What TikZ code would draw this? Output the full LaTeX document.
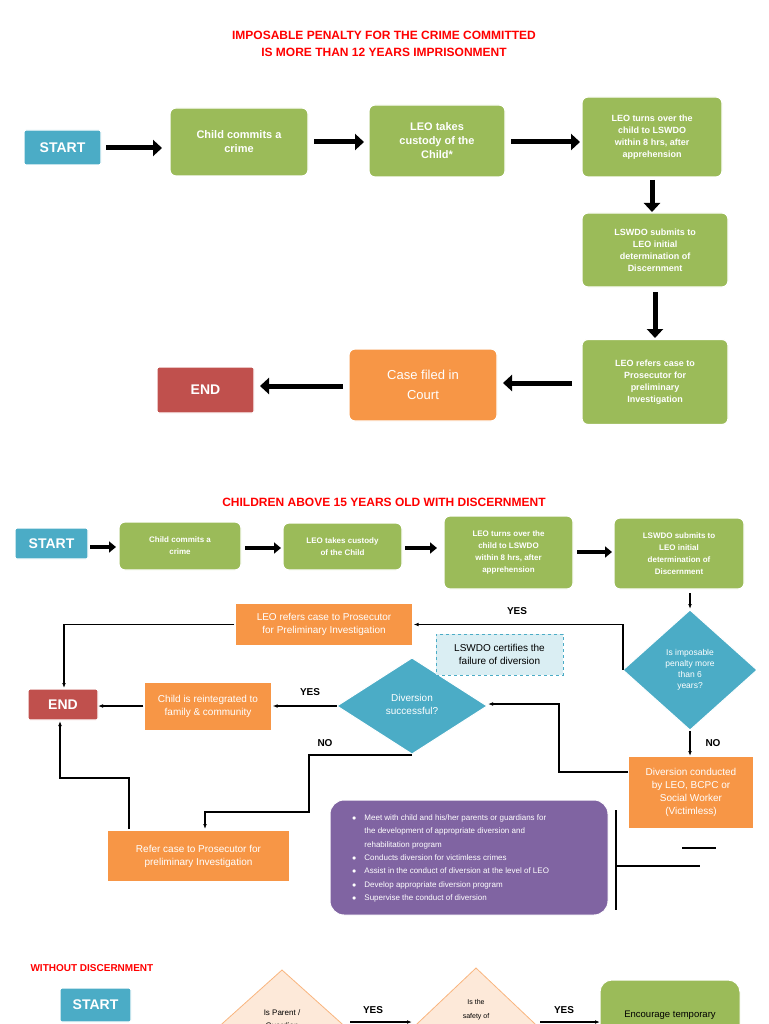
\documentclass[tikz,border=0pt]{standalone}
\usepackage{fontspec}
\setmainfont{Liberation Sans}
\usetikzlibrary{arrows.meta}
\definecolor{cgreen}{HTML}{9BBB59}
\definecolor{cteal}{HTML}{4BACC6}
\definecolor{cred}{HTML}{C0504D}
\definecolor{corange}{HTML}{F79646}
\definecolor{cpurple}{HTML}{8064A2}
\definecolor{clight}{HTML}{DAEEF3}
\definecolor{cpeach}{HTML}{FDE9D9}
\tikzset{
  box/.style={draw=white, line width=1.2pt, rounded corners=6pt, text=white,
              font=\bfseries\fontsize{11}{14}\selectfont, align=center, inner sep=0pt},
  green/.style={box, fill=cgreen},
  start/.style={box, fill=cteal, rounded corners=2pt, font=\bfseries\fontsize{14}{16}\selectfont},
  endb/.style={box, fill=cred, rounded corners=2pt, font=\bfseries\fontsize{14}{16}\selectfont},
  orange/.style={box, fill=corange, rounded corners=0pt, font=\fontsize{10}{13}\selectfont},
  small/.style={font=\bfseries\fontsize{9}{12}\selectfont},
  big/.style={-{Triangle[length=9pt,width=16pt]}, line width=5pt},
  mid/.style={-{Triangle[length=7pt,width=11pt]}, line width=3.5pt},
  thin/.style={-{Latex[length=5pt]}, line width=1.2pt},
  lbl/.style={font=\bfseries\fontsize{10}{12}\selectfont},
  ttl/.style={text=red, font=\bfseries\fontsize{12}{17}\selectfont, align=center},
  dia/.style={fill=cteal, draw=white, line width=1pt},
  tri/.style={fill=cpeach, draw=corange!70, line width=0.8pt}
}
\begin{document}
\begin{tikzpicture}[x=1pt,y=-1pt]
\useasboundingbox (0,0) rectangle (768,1024);
\clip (0,0) rectangle (768,1024);
% ---------- section 1
\node[ttl] at (384,44) {IMPOSABLE PENALTY FOR THE CRIME COMMITTED\\IS MORE THAN 12 YEARS IMPRISONMENT};
\node[start, minimum width=77pt, minimum height=35pt] (s1) at (62.5,147.5) {START};
\node[green, minimum width=138pt, minimum height=68pt] (a1) at (239,142) {Child commits a\\crime};
\node[green, minimum width=136pt, minimum height=72pt] (a2) at (437,141) {LEO takes\\custody of the\\Child*};
\node[green, small, minimum width=140pt, minimum height=80pt] (a3) at (652,137) {LEO turns over the\\child to LSWDO\\within 8 hrs, after\\apprehension};
\node[green, small, minimum width=146pt, minimum height=74pt] (a4) at (655,250) {LSWDO submits to\\LEO initial\\determination of\\Discernment};
\node[green, small, minimum width=146pt, minimum height=85pt] (a5) at (655,382) {LEO refers case to\\Prosecutor for\\preliminary\\Investigation};
\node[orange, font=\fontsize{13}{20}\selectfont, rounded corners=6pt, minimum width=148pt, minimum height=72pt] (a6) at (423,385) {Case filed in\\Court};
\node[endb, minimum width=97pt, minimum height=46pt] (e1) at (205.5,390) {END};
\draw[big] (106,148) -- (162,148);
\draw[big] (314,142) -- (364,142);
\draw[big] (511,142) -- (580,142);
\draw[big] (652,180) -- (652,212);
\draw[big] (655,292) -- (655,338);
\draw[big] (572,383) -- (503,383);
\draw[big] (343,386) -- (260,386);
% ---------- section 2
\node[ttl] at (384,502) {CHILDREN ABOVE 15 YEARS OLD WITH DISCERNMENT};
\tikzset{g2/.style={green, font=\bfseries\fontsize{8}{12}\selectfont}}
\node[start, minimum width=73pt, minimum height=31pt] (s2) at (51.5,543.5) {START};
\node[g2, minimum width=122pt, minimum height=48pt] (b1) at (180,546) {Child commits a\\crime};
\node[g2, minimum width=119pt, minimum height=47pt] (b2) at (342.5,546.5) {LEO takes custody\\of the Child};
\node[g2, minimum width=129pt, minimum height=73pt] (b3) at (508.5,552.5) {LEO turns over the\\child to LSWDO\\within 8 hrs, after\\apprehension};
\node[g2, minimum width=130pt, minimum height=71pt] (b4) at (679,553.5) {LSWDO submits to\\LEO initial\\determination of\\Discernment};
\draw[mid] (90,547) -- (116,547);
\draw[mid] (245,548) -- (281,548);
\draw[mid] (405,548) -- (437,548);
\draw[mid] (577,552) -- (612,552);
\draw[dia] (690,610) -- (757,670) -- (690,730) -- (623,670) -- cycle;
\node[text=white, font=\fontsize{8.5}{11}\selectfont, align=center] (d1) at (690,670) {Is imposable\\penalty more\\than 6\\years?};
\coordinate (d1w) at (623,670);
\coordinate (d1s) at (690,731);
\draw[thin] (690,593) -- (690,609);
\node[orange, minimum width=178pt, minimum height=43pt] (c1) at (324,624.5) {LEO refers case to Prosecutor\\for Preliminary Investigation};
\node[endb, minimum width=70pt, minimum height=31pt] (e2) at (63,704.5) {END};
\node[orange, minimum width=128pt, minimum height=49pt] (c2) at (208,706.5) {Child is reintegrated to\\family \& community};
\draw[dia] (412,658) -- (487,706) -- (412,754) -- (337,706) -- cycle;
\node[text=white, font=\fontsize{10}{13}\selectfont, align=center] (d2) at (412,704) {Diversion\\successful?};
\coordinate (d2w) at (337,706);
\coordinate (d2e) at (488,704);
\coordinate (d2s) at (412,755);
\node[draw=cteal, dashed, line width=1pt, fill=clight, align=center, font=\fontsize{10}{13}\selectfont, minimum width=127pt, minimum height=41pt] (cert) at (499.5,654.5) {LSWDO certifies the\\failure of diversion};
\node[orange, minimum width=183pt, minimum height=52pt] (c3) at (198.5,856) {Refer case to Prosecutor for\\preliminary Investigation};
\node[orange, minimum width=126pt, minimum height=73pt] (c4) at (691,792.5) {Diversion conducted\\by LEO, BCPC or\\Social Worker\\(Victimless)};
\node[fill=cpurple, draw=white, line width=1pt, rounded corners=14pt, text=white, minimum width=278pt, minimum height=115pt, inner sep=0pt] (p1) at (469,857.5) {};
\node[text=white, font=\fontsize{8}{13.3}\selectfont, anchor=north west, inner sep=0pt] (p1t) at (352,811) {%
  \begin{tabular}{@{}l@{\hspace{8pt}}p{238pt}@{}}
  $\bullet$ & Meet with child and his/her parents or guardians for\newline the development of appropriate diversion and\newline rehabilitation program\\
  $\bullet$ & Conducts diversion for victimless crimes\\
  $\bullet$ & Assist in the conduct of diversion at the level of LEO\\
  $\bullet$ & Develop appropriate diversion program\\
  $\bullet$ & Supervise the conduct of diversion
  \end{tabular}};
% connectors
\draw[thin] (d1w) |- (c1.east);
\node[lbl] at (517,611) {YES};
\draw[line width=1.2pt] (c1.west) -| (64,660);
\draw[thin] (64,660) -- (64,688);
\draw[thin] (c2.west |- 0,706) -- (98,706);
\draw[thin] (d2w) -- (c2.east |- 0,706);
\node[lbl] at (310,692) {YES};
\draw[thin] (d2s) -| (309,812) -| (205,829);
\node[lbl] at (325,743) {NO};
\draw[thin] (129,829) |- (60,778) -- (60,721);
\draw[thin] (d1s) -- (690,756);
\node[lbl] at (713,743) {NO};
\draw[thin] (628,772) -| (559,704) -- (d2e);
\draw[line width=1.2pt] (616,810) -- (616,910);
\draw[line width=1.2pt] (616,866) -- (700,866);
\draw[line width=1.2pt] (682,848) -- (716,848);
% ---------- section 3
\node[text=red, font=\bfseries\fontsize{10}{12}\selectfont, anchor=west] at (27,968) {WITHOUT DISCERNMENT};
\node[start, minimum width=71pt, minimum height=34pt] (s3) at (95.5,1005) {START};
\draw[tri] (282,970) -- (360,1040) -- (204,1040) -- cycle;
\node[font=\fontsize{8}{13}\selectfont, align=center, anchor=north] (t1) at (282,1006) {Is Parent /\\Guardian};
\draw[tri] (476,968) -- (552,1040) -- (400,1040) -- cycle;
\node[font=\fontsize{7}{14}\selectfont, align=center, anchor=north] (t2) at (476,996) {Is the\\safety of};
\node[fill=cgreen, draw=white, line width=1pt, rounded corners=12pt, minimum width=140pt, minimum height=70pt, inner sep=0pt] (g3) at (670,1015) {};
\node[font=\fontsize{9.5}{12}\selectfont] at (670,1015) {Encourage temporary};
\draw[line width=1.5pt, -{Latex[length=5pt]}] (350,1022) -- (412,1022);
\node[lbl] at (373,1010) {YES};
\draw[line width=1.5pt, -{Latex[length=5pt]}] (540,1022) -- (600,1022);
\node[lbl] at (564,1010) {YES};
\end{tikzpicture}
\end{document}
